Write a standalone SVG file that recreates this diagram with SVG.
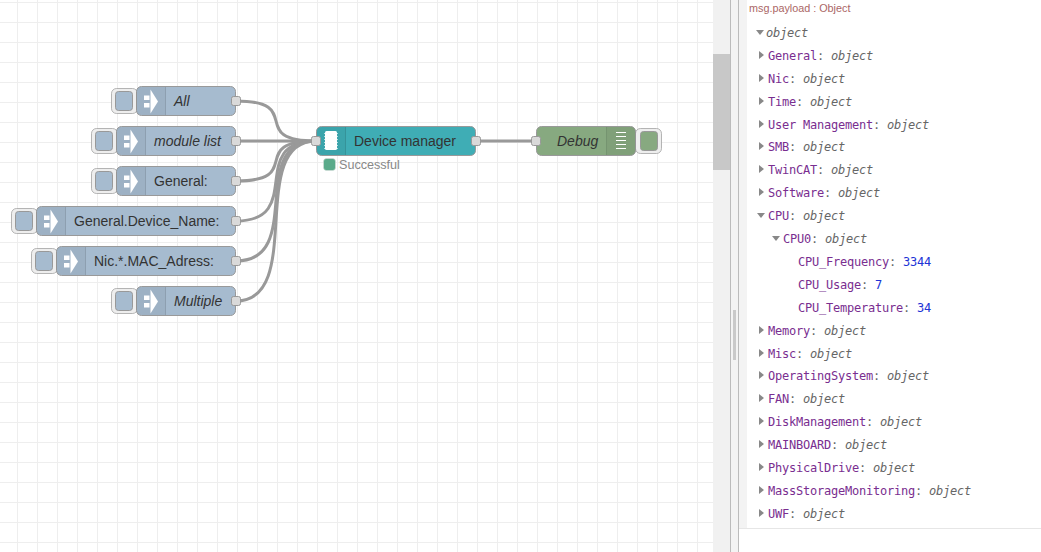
<svg xmlns="http://www.w3.org/2000/svg" width="1041" height="552" viewBox="0 0 1041 552">
<defs>
<pattern id="grid" width="20" height="20" patternUnits="userSpaceOnUse" x="17" y="2"><path d="M0.5 0V20M0 0.5H20" fill="none" stroke="#eeeeee" stroke-width="1"/></pattern>
<g id="inj-icon"><path d="M0 6.500h5.500v4.500H0zM0 14h5.500v4.500H0z" fill="#fff"/><path d="M6.500 0.500L14 12.500 6.500 24.500z" fill="#fff"/></g>
<g id="port"><rect x="-4.500" y="-4.500" width="9" height="9" rx="2" ry="2" fill="#d9d9d9" stroke="#999"/></g>
<path id="tr" d="M0 -4L5 0L0 4z" fill="#888"/>
<path id="td" d="M0 0H8L4 5z" fill="#888"/>
</defs>
<style>
.inj{fill:#a6bbcf;stroke:#999;stroke-width:1}
.ic{fill:#000;fill-opacity:.05}
.sep{stroke:#000;stroke-opacity:.1;stroke-width:1}
.btn{fill:#eee;stroke:#999;stroke-width:1;stroke-opacity:.7}
.lbl{font-family:"Liberation Sans",Arial,sans-serif;font-size:14px;fill:#333}
.it{font-style:italic}
.wire{fill:none;stroke:#999;stroke-width:3}
.m{font-family:"DejaVu Sans Mono",monospace;font-size:12px;letter-spacing:-.224px;white-space:pre}
.k{fill:#792e90}
.p{fill:#666}
.o{fill:#666;font-style:italic}
.n{fill:#2033d6}
</style>
<rect width="1041" height="552" fill="#fff"/>
<rect width="713" height="552" fill="url(#grid)"/>
<g id="connectors">
<path class="wire" d="M236 101C306 101 246 141 316 141"/>
<path class="wire" d="M236 141C306 141 246 141 316 141"/>
<path class="wire" d="M236 181C306 181 246 141 316 141"/>
<path class="wire" d="M236 221C306 221 246 141 316 141"/>
<path class="wire" d="M236 261C306 261 246 141 316 141"/>
<path class="wire" d="M236 301C306 301 246 141 316 141"/>
<path class="wire" d="M476 141H536"/>
</g>
<g id="n-all">
<rect class="btn" x="111.500" y="88.500" width="26" height="25" rx="5"/><rect class="inj" x="115.500" y="91.500" width="17" height="19" rx="3"/>
<rect class="inj" x="136.500" y="86.500" width="99" height="29" rx="5"/><path class="ic" d="M141.500 87h24.500v28h-24.500a5 5 0 0 1-5-5v-18a5 5 0 0 1 5-5z"/><path class="sep" d="M165.500 87v28"/>
<use href="#inj-icon" x="144" y="89"/><text class="lbl it" x="174" y="106">All</text><use href="#port" x="236" y="101"/>
</g>
<g id="n-module">
<rect class="btn" x="91.500" y="128.500" width="26" height="25" rx="5"/><rect class="inj" x="95.500" y="131.500" width="17" height="19" rx="3"/>
<rect class="inj" x="116.500" y="126.500" width="119" height="29" rx="5"/><path class="ic" d="M121.500 127h24.500v28h-24.500a5 5 0 0 1-5-5v-18a5 5 0 0 1 5-5z"/><path class="sep" d="M145.500 127v28"/>
<use href="#inj-icon" x="124" y="129"/><text class="lbl it" x="154" y="146">module list</text><use href="#port" x="236" y="141"/>
</g>
<g id="n-general">
<rect class="btn" x="91.500" y="168.500" width="26" height="25" rx="5"/><rect class="inj" x="95.500" y="171.500" width="17" height="19" rx="3"/>
<rect class="inj" x="116.500" y="166.500" width="119" height="29" rx="5"/><path class="ic" d="M121.500 167h24.500v28h-24.500a5 5 0 0 1-5-5v-18a5 5 0 0 1 5-5z"/><path class="sep" d="M145.500 167v28"/>
<use href="#inj-icon" x="124" y="169"/><text class="lbl" x="154" y="186">General:</text><use href="#port" x="236" y="181"/>
</g>
<g id="n-devname">
<rect class="btn" x="11.500" y="208.500" width="26" height="25" rx="5"/><rect class="inj" x="15.500" y="211.500" width="17" height="19" rx="3"/>
<rect class="inj" x="36.500" y="206.500" width="199" height="29" rx="5"/><path class="ic" d="M41.500 207h24.500v28h-24.500a5 5 0 0 1-5-5v-18a5 5 0 0 1 5-5z"/><path class="sep" d="M65.500 207v28"/>
<use href="#inj-icon" x="44" y="209"/><text class="lbl" x="74" y="226">General.Device_Name:</text><use href="#port" x="236" y="221"/>
</g>
<g id="n-mac">
<rect class="btn" x="31.500" y="248.500" width="26" height="25" rx="5"/><rect class="inj" x="35.500" y="251.500" width="17" height="19" rx="3"/>
<rect class="inj" x="56.500" y="246.500" width="179" height="29" rx="5"/><path class="ic" d="M61.500 247h24.500v28h-24.500a5 5 0 0 1-5-5v-18a5 5 0 0 1 5-5z"/><path class="sep" d="M85.500 247v28"/>
<use href="#inj-icon" x="64" y="249"/><text class="lbl" x="94" y="266">Nic.*.MAC_Adress:</text><use href="#port" x="236" y="261"/>
</g>
<g id="n-multiple">
<rect class="btn" x="111.500" y="288.500" width="26" height="25" rx="5"/><rect class="inj" x="115.500" y="291.500" width="17" height="19" rx="3"/>
<rect class="inj" x="136.500" y="286.500" width="99" height="29" rx="5"/><path class="ic" d="M141.500 287h24.500v28h-24.500a5 5 0 0 1-5-5v-18a5 5 0 0 1 5-5z"/><path class="sep" d="M165.500 287v28"/>
<use href="#inj-icon" x="144" y="289"/><text class="lbl it" x="174" y="306">Multiple</text><use href="#port" x="236" y="301"/>
</g>
<g id="n-device">
<rect x="316.500" y="126.500" width="159" height="29" rx="5" fill="#3fadb5" stroke="#999"/>
<path class="ic" d="M321.500 127h24.500v28h-24.500a5 5 0 0 1-5-5v-18a5 5 0 0 1 5-5z"/><path class="sep" d="M345.500 127v28"/>
<path d="M324 133.500h14M324 136.500h14M324 139.500h14M324 142.500h14M324 145.500h14M324 148.500h14" stroke="#fff" stroke-opacity=".65" stroke-width="1"/>
<rect x="325" y="131" width="12" height="19" rx="1.500" fill="#fff"/>
<text class="lbl" x="354" y="146">Device manager</text>
<use href="#port" x="316" y="141"/><use href="#port" x="476" y="141"/>
<rect x="323.500" y="158.500" width="12" height="12" rx="3" fill="#5aaa8a" stroke="#e0e0e0" stroke-width=".5"/>
<text x="339" y="169" font-family="&quot;Liberation Sans&quot;,Arial,sans-serif" font-size="12.600" fill="#888">Successful</text>
</g>
<g id="n-debug">
<rect class="btn" x="635.500" y="128.500" width="26" height="25" rx="5"/><rect x="640.500" y="131.500" width="17" height="19" rx="3" fill="#87a980" stroke="#999"/>
<rect x="536.500" y="126.500" width="99" height="29" rx="5" fill="#87a980" stroke="#999"/>
<path class="ic" d="M606.500 127h24a5 5 0 0 1 5 5v18a5 5 0 0 1-5 5h-24z"/><path class="sep" d="M606.500 127v28"/>
<path d="M616 132.500h10M616 136.500h10M616 140.500h10M616 144.500h10M616 148.500h10" stroke="#fff" stroke-width="1"/>
<text class="lbl it" x="557" y="146">Debug</text><use href="#port" x="536" y="141"/>
</g>
<g id="sidebar">
<rect x="713" y="0" width="17" height="552" fill="#f1f1f1"/>
<rect x="713" y="54" width="17" height="116" fill="#c8c8c8"/>
<rect x="730" y="0" width="1" height="552" fill="#bbb"/>
<rect x="731" y="0" width="7" height="552" fill="#f3f3f3"/>
<rect x="733" y="310" width="3" height="50" fill="#c9c9c9"/>
<rect x="738" y="0" width="1" height="552" fill="#bbb"/>
<rect x="739" y="0" width="8" height="528" fill="#f3f3f3"/>
<rect x="739" y="528" width="302" height="1" fill="#e6e6e6"/>
</g>
<g id="debug-output">
<text x="749" y="12" font-family="&quot;Liberation Sans&quot;,Arial,sans-serif" font-size="10.800" fill="#a66">msg.payload : Object</text>
<use href="#td" x="756" y="30"/><text class="m o" x="766" y="37">object</text>
<use href="#tr" x="759" y="55"/><text class="m" x="768" y="60"><tspan class="k">General</tspan><tspan class="p">: </tspan><tspan class="o">object</tspan></text>
<use href="#tr" x="759" y="78"/><text class="m" x="768" y="83"><tspan class="k">Nic</tspan><tspan class="p">: </tspan><tspan class="o">object</tspan></text>
<use href="#tr" x="759" y="101"/><text class="m" x="768" y="106"><tspan class="k">Time</tspan><tspan class="p">: </tspan><tspan class="o">object</tspan></text>
<use href="#tr" x="759" y="124"/><text class="m" x="768" y="129"><tspan class="k">User Management</tspan><tspan class="p">: </tspan><tspan class="o">object</tspan></text>
<use href="#tr" x="759" y="146"/><text class="m" x="768" y="151"><tspan class="k">SMB</tspan><tspan class="p">: </tspan><tspan class="o">object</tspan></text>
<use href="#tr" x="759" y="169"/><text class="m" x="768" y="174"><tspan class="k">TwinCAT</tspan><tspan class="p">: </tspan><tspan class="o">object</tspan></text>
<use href="#tr" x="759" y="192"/><text class="m" x="768" y="197"><tspan class="k">Software</tspan><tspan class="p">: </tspan><tspan class="o">object</tspan></text>
<use href="#td" x="757" y="213"/><text class="m" x="768" y="220"><tspan class="k">CPU</tspan><tspan class="p">: </tspan><tspan class="o">object</tspan></text>
<use href="#td" x="772" y="236"/><text class="m" x="783" y="243"><tspan class="k">CPU0</tspan><tspan class="p">: </tspan><tspan class="o">object</tspan></text>
<text class="m" x="798" y="266"><tspan class="k">CPU_Frequency</tspan><tspan class="p">: </tspan><tspan class="n">3344</tspan></text>
<text class="m" x="798" y="289"><tspan class="k">CPU_Usage</tspan><tspan class="p">: </tspan><tspan class="n">7</tspan></text>
<text class="m" x="798" y="312"><tspan class="k">CPU_Temperature</tspan><tspan class="p">: </tspan><tspan class="n">34</tspan></text>
<use href="#tr" x="759" y="330"/><text class="m" x="768" y="335"><tspan class="k">Memory</tspan><tspan class="p">: </tspan><tspan class="o">object</tspan></text>
<use href="#tr" x="759" y="353"/><text class="m" x="768" y="358"><tspan class="k">Misc</tspan><tspan class="p">: </tspan><tspan class="o">object</tspan></text>
<use href="#tr" x="759" y="375"/><text class="m" x="768" y="380"><tspan class="k">OperatingSystem</tspan><tspan class="p">: </tspan><tspan class="o">object</tspan></text>
<use href="#tr" x="759" y="398"/><text class="m" x="768" y="403"><tspan class="k">FAN</tspan><tspan class="p">: </tspan><tspan class="o">object</tspan></text>
<use href="#tr" x="759" y="421"/><text class="m" x="768" y="426"><tspan class="k">DiskManagement</tspan><tspan class="p">: </tspan><tspan class="o">object</tspan></text>
<use href="#tr" x="759" y="444"/><text class="m" x="768" y="449"><tspan class="k">MAINBOARD</tspan><tspan class="p">: </tspan><tspan class="o">object</tspan></text>
<use href="#tr" x="759" y="467"/><text class="m" x="768" y="472"><tspan class="k">PhysicalDrive</tspan><tspan class="p">: </tspan><tspan class="o">object</tspan></text>
<use href="#tr" x="759" y="490"/><text class="m" x="768" y="495"><tspan class="k">MassStorageMonitoring</tspan><tspan class="p">: </tspan><tspan class="o">object</tspan></text>
<use href="#tr" x="759" y="513"/><text class="m" x="768" y="518"><tspan class="k">UWF</tspan><tspan class="p">: </tspan><tspan class="o">object</tspan></text>
</g>
</svg>
